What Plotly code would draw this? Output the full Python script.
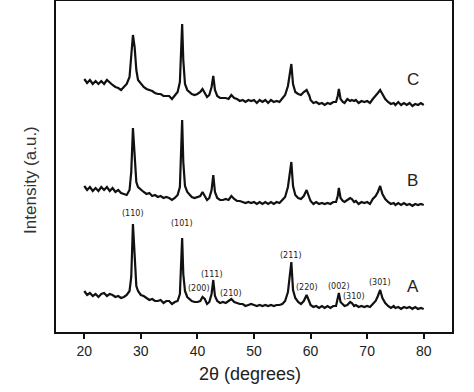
import plotly.graph_objects as go

two_theta = [
    20.0, 20.5, 21.0, 21.5, 22.0, 22.5, 23.0, 23.5, 24.0, 24.5,
    25.0, 25.5, 26.0, 26.5, 27.0, 27.5, 28.0, 28.3, 28.6, 28.9, 29.2, 29.5,
    30.0, 30.5, 31.0, 31.5, 32.0, 32.5, 33.0, 33.5, 34.0, 34.5,
    35.0, 35.5, 36.0, 36.5, 36.9, 37.1, 37.3, 37.5, 37.8, 38.2, 38.6, 39.0, 39.5,
    40.0, 40.5, 40.9, 41.3, 41.7, 42.1, 42.5, 42.8, 43.1, 43.5, 44.0, 44.5,
    45.0, 45.5, 46.0, 46.5, 47.0, 47.5, 48.0, 48.5, 49.0, 49.5,
    50.0, 50.5, 51.0, 51.5, 52.0, 52.5, 53.0, 53.5, 54.0, 54.5,
    55.0, 55.5, 56.0, 56.3, 56.6, 56.9, 57.3, 57.8, 58.3, 58.8, 59.3, 59.8,
    60.0, 60.5, 61.0, 61.5, 62.0, 62.5, 63.0, 63.5, 64.0, 64.5,
    64.8, 65.0, 65.3, 65.7, 66.0, 66.5, 67.0, 67.3, 67.7, 68.0, 68.5, 69.0, 69.5,
    70.0, 70.5, 71.0, 71.5, 71.9, 72.3, 72.7, 73.2, 73.7, 74.2, 74.7,
    75.0, 75.5, 76.0, 76.5, 77.0, 77.5, 78.0, 78.5, 79.0, 79.5, 80.0,
]

intensity_A = [
    41, 37, 39, 36, 38, 35, 38, 39, 36, 38,
    37, 35, 36, 34, 35, 37, 41, 55, 108, 70, 46, 41,
    37, 36, 34, 32, 33, 31, 31, 32, 29, 31,
    31, 28, 30, 31, 38, 62, 94, 58, 41, 35, 33, 31, 30,
    30, 31, 35, 33, 28, 30, 38, 52, 36, 31, 29, 30,
    29, 31, 33, 30, 29, 28, 28, 26, 27, 28,
    27, 26, 27, 26, 27, 26, 27, 26, 27, 27,
    28, 31, 40, 58, 70, 42, 34, 30, 28, 31, 37, 30,
    27, 25, 26, 24, 26, 24, 26, 24, 26, 26,
    33, 39, 30, 27, 26, 27, 30, 29, 26, 27, 25, 26, 25,
    26, 25, 28, 31, 36, 42, 34, 29, 26, 24, 26,
    24, 25, 23, 25, 24, 25, 23, 25, 23, 24, 23,
]

intensity_B = [
    146, 142, 145, 141, 144, 141, 145, 142, 145, 141,
    144, 140, 142, 139, 138, 137, 142, 160, 204, 178, 150, 145,
    142, 140, 138, 139, 136, 137, 135, 136, 134, 135,
    134, 132, 134, 137, 145, 175, 212, 170, 146, 140, 137, 135, 134,
    135, 136, 140, 136, 132, 134, 142, 157, 140, 134, 132, 132,
    133, 132, 136, 133, 131, 131, 130, 129, 130, 129,
    130, 128, 130, 128, 130, 128, 130, 128, 130, 129,
    132, 135, 145, 160, 170, 146, 137, 134, 133, 136, 142, 134,
    131, 128, 130, 128, 129, 128, 129, 128, 130, 130,
    136, 144, 134, 131, 130, 132, 134, 133, 130, 131, 128, 130, 129,
    130, 128, 133, 136, 140, 146, 138, 133, 130, 128, 129,
    127, 129, 127, 129, 127, 128, 126, 128, 127, 128, 127,
]

intensity_C = [
    253, 249, 252, 248, 251, 248, 251, 248, 252, 249,
    247, 245, 244, 242, 245, 248, 255, 275, 297, 285, 262, 252,
    248, 245, 243, 242, 241, 239, 238, 238, 236, 236,
    236, 233, 236, 240, 250, 280, 308, 272, 248, 242, 240, 238, 237,
    238, 240, 243, 239, 235, 237, 245, 256, 242, 236, 234, 234,
    234, 233, 237, 234, 233, 231, 232, 230, 232, 231,
    232, 229, 232, 230, 232, 229, 232, 230, 231, 230,
    234, 237, 246, 260, 268, 248, 240, 238, 237, 240, 242, 236,
    232, 229, 230, 228, 229, 227, 229, 228, 230, 230,
    236, 243, 233, 230, 229, 233, 231, 232, 231, 232, 229, 231, 230,
    231, 229, 233, 236, 239, 242, 238, 233, 230, 228, 229,
    227, 230, 227, 229, 227, 229, 226, 228, 227, 229, 227,
]

peak_labels = ["(110)", "(101)", "(200)", "(111)", "(210)", "(211)", "(220)", "(002)", "(310)", "(301)"]
peak_x = [28.6, 37.3, 40.2, 42.65, 46.0, 56.5, 59.4, 65.0, 67.6, 72.3]
peak_y = [119, 109, 44, 58, 39, 77, 45, 46, 36, 50]

sample_names = ["A", "B", "C"]
sample_x = [78.05, 78.05, 78.05]
sample_y = [46, 152, 253]

x_ticks = [20, 30, 40, 50, 60, 70, 80]

fig = go.Figure()
for ys in (intensity_A, intensity_B, intensity_C):
    fig.add_trace(go.Scatter(x=two_theta, y=ys, mode="lines",
                             line=dict(color="#111111", width=2.2),
                             showlegend=False, hoverinfo="skip"))

for lab, px, py in zip(peak_labels, peak_x, peak_y):
    fig.add_annotation(x=px, y=py, text=lab, showarrow=False,
                       font=dict(family="DejaVu Sans", size=8, color="#222222"))

for lab, px, py in zip(sample_names, sample_x, sample_y):
    fig.add_annotation(x=px, y=py, text=lab, showarrow=False,
                       font=dict(family="Liberation Sans", size=17, color="#222222"))

fig.add_annotation(xref="paper", yref="paper", x=0.49, y=-0.127, text="2θ (degrees)",
                   showarrow=False, yanchor="middle", xanchor="center",
                   font=dict(family="Liberation Sans", size=18, color="#222222"))
fig.add_annotation(xref="paper", yref="paper", x=-0.066, y=0.459, text="Intensity (a.u.)",
                   showarrow=False, textangle=-90, yanchor="middle", xanchor="center",
                   font=dict(family="Liberation Sans", size=17, color="#333333"))

fig.update_layout(
    width=474, height=392, autosize=False,
    margin=dict(l=56, r=22, t=1, b=60, autoexpand=False),
    paper_bgcolor="white", plot_bgcolor="white",
    font=dict(family="Liberation Sans", color="#222222"),
    xaxis=dict(range=[15, 85], tickvals=x_ticks, ticks="outside", ticklen=5,
               tickwidth=1.5, tickcolor="#111111", showline=True, linecolor="#111111",
               linewidth=2, mirror=True, showgrid=False, zeroline=False,
               tickfont=dict(size=14), automargin=False),
    yaxis=dict(range=[0, 331], showticklabels=False, ticks="", showline=True,
               linecolor="#111111", linewidth=2, mirror=True, showgrid=False,
               zeroline=False, automargin=False),
)

fig.write_html("out.html", config={"displayModeBar": False},
               post_script="document.body.style.margin='0';document.body.style.padding='0';")
